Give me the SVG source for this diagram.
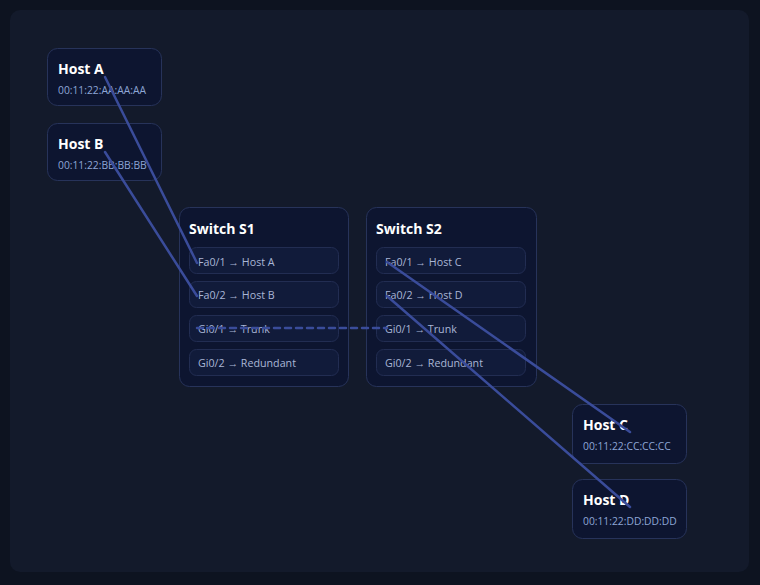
<svg xmlns="http://www.w3.org/2000/svg" width="760" height="585" viewBox="0 0 760 585">
<style>
.node{fill:#0d1530;stroke:#27335a;stroke-width:1}
.port{fill:#111b3a;stroke:#222d52;stroke-width:1}
.t{font-family:"Segoe UI","Open Sans","Noto Sans",sans-serif;font-weight:700;font-size:14px;fill:#ffffff}
.m{font-family:"Segoe UI","Open Sans","Noto Sans",sans-serif;font-size:10.3px;fill:#8ea6d6}
.p{font-family:"Segoe UI","Open Sans","Noto Sans",sans-serif;font-size:10.7px;fill:#a9b6d6}
.c{stroke:#3a4c9a;stroke-width:2.5;fill:none;stroke-linecap:round}
</style>
<rect width="760" height="585" fill="#0d1320"/>
<rect x="10" y="10" width="739" height="562" rx="10" fill="#131a2b"/>
<g id="hostA"><rect class="node" x="47.5" y="48.5" width="114" height="57" rx="10"/><text class="t" x="58" y="74">Host A</text><text class="m" x="58" y="94">00:11:22:AA:AA:AA</text></g>
<g id="hostB"><rect class="node" x="47.5" y="123.5" width="114" height="57" rx="10"/><text class="t" x="58" y="149">Host B</text><text class="m" x="58" y="169">00:11:22:BB:BB:BB</text></g>
<g id="switchS1"><rect class="node" x="179.5" y="207.5" width="169" height="179" rx="10"/><text class="t" x="189" y="234">Switch S1</text>
<rect class="port" x="189.5" y="247.5" width="149" height="26" rx="7"/><text class="p" x="198" y="266">Fa0/1 → Host A</text>
<rect class="port" x="189.5" y="281.5" width="149" height="26" rx="7"/><text class="p" x="198" y="299">Fa0/2 → Host B</text>
<rect class="port" x="189.5" y="315.5" width="149" height="26" rx="7"/><text class="p" x="198" y="333">Gi0/1 → Trunk</text>
<rect class="port" x="189.5" y="349.5" width="149" height="26" rx="7"/><text class="p" x="198" y="367">Gi0/2 → Redundant</text></g>
<g id="switchS2"><rect class="node" x="366.5" y="207.5" width="170" height="179" rx="10"/><text class="t" x="376" y="234">Switch S2</text>
<rect class="port" x="376.5" y="247.5" width="149" height="26" rx="7"/><text class="p" x="385" y="266">Fa0/1 → Host C</text>
<rect class="port" x="376.5" y="281.5" width="149" height="26" rx="7"/><text class="p" x="385" y="299">Fa0/2 → Host D</text>
<rect class="port" x="376.5" y="315.5" width="149" height="26" rx="7"/><text class="p" x="385" y="333">Gi0/1 → Trunk</text>
<rect class="port" x="376.5" y="349.5" width="149" height="26" rx="7"/><text class="p" x="385" y="367">Gi0/2 → Redundant</text></g>
<g id="hostC"><rect class="node" x="572.5" y="404.5" width="114" height="59" rx="10"/><text class="t" x="583" y="430">Host C</text><text class="m" x="583" y="450">00:11:22:CC:CC:CC</text></g>
<g id="hostD"><rect class="node" x="572.5" y="479.5" width="114" height="59" rx="10"/><text class="t" x="583" y="505">Host D</text><text class="m" x="583" y="525">00:11:22:DD:DD:DD</text></g>
<g id="connectors">
<line class="c" x1="105" y1="77" x2="197" y2="263"/>
<line class="c" x1="105" y1="152" x2="197" y2="296"/>
<line class="c" x1="197" y1="328" x2="387" y2="328" stroke-dasharray="6 5"/>
<line class="c" x1="387" y1="262" x2="630" y2="432"/>
<line class="c" x1="387" y1="296" x2="630" y2="507"/>
</g>
</svg>
